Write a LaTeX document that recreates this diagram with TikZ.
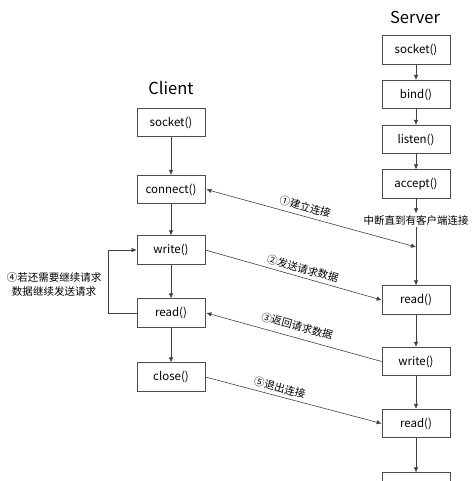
\documentclass[tikz,border=0pt]{standalone}
\usepackage{fontspec}
\setmainfont{Noto Sans CJK SC}
\usetikzlibrary{arrows.meta}
\begin{document}
\begin{tikzpicture}[x=1pt,y=-1pt,
  box/.style={draw=black!70, fill=white, line width=0.7pt, minimum width=68pt, minimum height=28.5pt, inner sep=0pt, font=\fontsize{11.5}{13}\selectfont},
  title/.style={font=\fontsize{16.5}{19}\selectfont},
  conn/.style={draw=black!75, line width=0.6pt, -{Latex[length=5pt,width=4.5pt]}},
  rconn/.style={draw=black!75, line width=0.6pt, {Latex[length=5pt,width=4.5pt]}-},
  bconn/.style={draw=black!75, line width=0.6pt, {Latex[length=5pt,width=4.5pt]}-{Latex[length=5pt,width=4.5pt]}},
  lbl/.style={font=\fontsize{10.5}{14}\selectfont, text=black}]
\useasboundingbox (0,0) rectangle (474,481);
\clip (0,0) rectangle (474,481);
% titles
\node[title] (stitle) at (415,17) {Server};
\node[title] (ctitle) at (171,88) {Client};
% server column
\node[box] (ssocket) at (416,50) {socket()};
\node[box] (sbind) at (416,94.5) {bind()};
\node[box] (slisten) at (416,139.5) {listen()};
\node[box] (saccept) at (416,184) {accept()};
\node[lbl, fill=white, inner sep=1.5pt] (swait) at (416,220) {中断直到有客户端连接};
\node[box] (sread) at (416,300) {read()};
\node[box] (swrite) at (416,361.5) {write()};
\node[box] (sread2) at (416,423.5) {read()};
\node[box] (slast) at (416,487) {};
\coordinate (hit) at (416,247);
% client column
\node[box] (csocket) at (171,122.5) {socket()};
\node[box] (cconnect) at (171,189.5) {connect()};
\node[box] (cwrite) at (171,250) {write()};
\node[box] (cread) at (171,313) {read()};
\node[box] (cclose) at (171,377) {close()};
% server arrows
\draw[conn] (ssocket) -- (sbind);
\draw[conn] (sbind) -- (slisten);
\draw[conn] (slisten) -- (saccept);
\draw[conn] (saccept) -- (swait);
\draw[conn] (swait) -- (sread);
\draw[conn] (sread) -- (swrite);
\draw[conn] (swrite) -- (sread2);
\draw[conn] (sread2) -- (slast);
% client arrows
\draw[conn] (csocket) -- (cconnect);
\draw[conn] (cconnect) -- (cwrite);
\draw[conn] (cwrite) -- (cread);
\draw[conn] (cread) -- (cclose);
% loop
\draw[conn] (cread.west) -- ++(-28,0) |- (cwrite.west);
\node[lbl, align=center] (loopl) at (54,284) {④若还需要继续请求\\数据继续发送请求};
% messages
\draw[bconn] ([xshift=1pt]cconnect.east) -- (hit) node[lbl, sloped, above, pos=0.46, yshift=1pt] {①建立连接};
\draw[conn] (cwrite.east) -- (sread.west) node[lbl, sloped, above, pos=0.54] {②发送请求数据};
\draw[rconn] ([xshift=1pt]cread.east) -- (swrite.west) node[lbl, sloped, above, pos=0.5, yshift=3pt] {③返回请求数据};
\draw[conn] (cclose.east) -- (sread2.west) node[lbl, sloped, above, pos=0.41] {⑤退出连接};
\end{tikzpicture}
\end{document}
